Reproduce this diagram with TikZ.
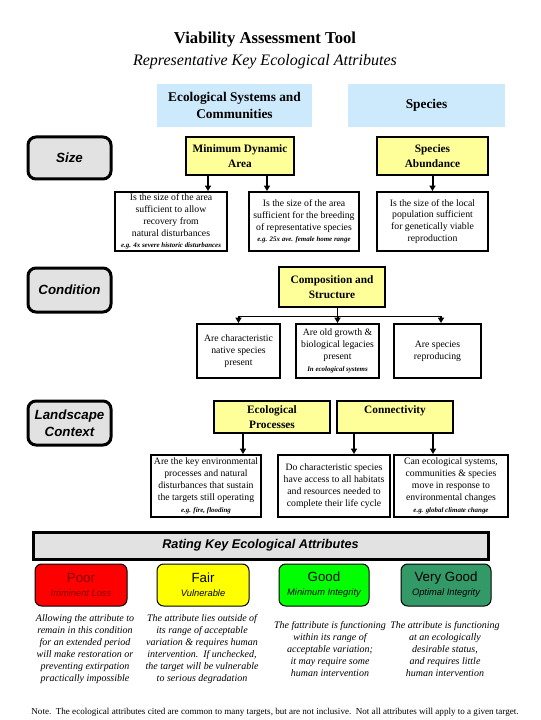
\documentclass[tikz,border=0pt]{standalone}
\usepackage{fontspec}
\setmainfont{Liberation Serif}
\setsansfont{Liberation Sans}
\usetikzlibrary{arrows.meta}

\definecolor{hdrblue}{RGB}{204,234,252}
\definecolor{attryellow}{RGB}{255,255,153}
\definecolor{keygray}{RGB}{226,226,226}
\definecolor{poorred}{RGB}{255,0,0}
\definecolor{poortext}{RGB}{130,0,0}
\definecolor{fairyellow}{RGB}{255,255,0}
\definecolor{goodgreen}{RGB}{0,255,0}
\definecolor{vgoodgreen}{RGB}{51,153,102}

\tikzset{every picture/.style={line width=0.75pt}}
\tikzset{
  category/.style={rectangle, rounded corners=6pt, draw, line width=2.25pt, fill=keygray, align=center, inner sep=0pt, font=\fontsize{10}{12.5}\selectfont\sffamily\bfseries\itshape},
  target/.style={fill=hdrblue, align=center, inner sep=0pt, font=\fontsize{10}{12.5}\selectfont\bfseries},
  attribute/.style={draw, line width=1.5pt, fill=attryellow, align=center, inner sep=0pt, font=\fontsize{8.5}{11.5}\selectfont\bfseries},
  question/.style={draw, line width=1.5pt, fill=white, align=center, inner sep=0pt, font=\fontsize{7.3}{8.9}\selectfont},
  rating/.style={draw, rounded corners=5pt, align=center, inner sep=0pt, minimum height=31.5pt, font=\fontsize{10}{10.5}\selectfont\sffamily},
  ratingtext/.style={align=center, inner sep=0pt, font=\fontsize{7.5}{9}\selectfont\itshape},
  arr/.style={-{Triangle[length=4pt,width=4.5pt]}, line width=1.5pt},
}
\newcommand{\egline}[1]{\\{\fontsize{5.2}{6.2}\selectfont\bfseries\itshape #1}}
\newcommand{\ratingsub}[1]{\\{\fontsize{7}{8}\selectfont\itshape #1}}

\begin{document}
\begin{tikzpicture}[x=0.75pt,y=0.75pt,yscale=-1,xscale=1]
\useasboundingbox (0,0) rectangle (540,720);

% Title
\node (title) at (265,40) {\fontsize{12.5}{14}\selectfont\bfseries Viability Assessment Tool};
\node (subtitle) at (265,62) {\fontsize{12}{14}\selectfont\itshape Representative Key Ecological Attributes};

% Targets
\node [target, minimum width=116.25pt, minimum height=32.25pt] (eco) at (234.5,105.5) {Ecological Systems and\\Communities};
\node [target, minimum width=117.75pt, minimum height=32.25pt] (spe) at (426.5,105.5) {Species};

% Categories
\node [category, minimum width=62.25pt, minimum height=31.5pt] (size) at (69.5,158) {Size};
\node [category, minimum width=62.25pt, minimum height=33pt] (cond) at (69.5,290) {Condition};
\node [category, minimum width=62.25pt, minimum height=33pt] (land) at (69.5,423) {Landscape\\Context};

% Size
\node [attribute, minimum width=81pt, minimum height=28.5pt] (mda) at (240,156) {Minimum Dynamic\\Area};
\node [attribute, minimum width=83.25pt, minimum height=28.5pt] (sab) at (432.5,156) {Species\\Abundance};
\node [question, minimum width=84pt, minimum height=44.25pt] (s1) at (171,221.5) {Is the size of the area\\sufficient to allow\\recovery from\\natural disturbances\egline{e.g. 4x severe historic disturbances}};
\node [question, minimum width=82.5pt, minimum height=44.25pt] (s2) at (304,221.5) {Is the size of the area\\sufficient for the breeding\\of representative species\egline{e.g. 25x ave. female home range}};
\node [question, minimum width=83.25pt, minimum height=44.25pt] (s3) at (432.5,221.5) {Is the size of the local\\population sufficient\\for genetically viable\\reproduction};
\coordinate (a1) at (208,0);
\coordinate (a2) at (267,0);
\draw [arr] (mda.south -| a1) -- (s1.north -| a1);
\draw [arr] (mda.south -| a2) -- (s2.north -| a2);
\draw [arr] (sab) -- (s3);

% Condition
\node [attribute, minimum width=79.5pt, minimum height=30pt] (cas) at (332,287) {Composition and\\Structure};
\node [question, minimum width=62.25pt, minimum height=40.5pt] (c1) at (238.5,351) {Are characteristic\\native species\\present};
\node [question, minimum width=62.25pt, minimum height=40.5pt] (c2) at (337.5,351) {Are old growth \&\\biological legacies\\present\egline{In ecological systems}};
\node [question, minimum width=65.25pt, minimum height=40.5pt] (c3) at (437.5,351) {Are species\\reproducing};
\coordinate (j) at (0,316);
\coordinate (a3) at (441,0);
\draw (cas.south -| c2) -- (c2 |- j);
\draw (c1 |- j) -- (a3 |- j);
\draw [arr] (c1 |- j) -- (c1.north);
\draw [arr] (c2 |- j) -- (c2.north);
\draw [arr] (a3 |- j) -- (c3.north -| a3);

% Landscape context
\node [attribute, minimum width=87pt, minimum height=24pt] (ep) at (272,417) {Ecological\\Processes};
\node [attribute, minimum width=87pt, minimum height=24pt] (con) at (395,417) {Connectivity\\\phantom{X}};
\node [question, minimum width=82.5pt, minimum height=46.5pt] (l1) at (206,486) {Are the key environmental\\processes and natural\\disturbances that sustain\\the targets still operating\egline{e.g. fire, flooding}};
\node [question, minimum width=84pt, minimum height=46.5pt] (l2) at (334,486) {Do characteristic species\\have access to all habitats\\and resources needed to\\complete their life cycle};
\node [question, minimum width=85.5pt, minimum height=46.5pt] (l3) at (451,486) {Can ecological systems,\\communities \& species\\move in response to\\environmental changes\egline{e.g. global climate change}};
\coordinate (a4) at (243,0);
\coordinate (a5) at (354,0);
\coordinate (a6) at (433,0);
\draw [arr] (ep.south -| a4) -- (l1.north -| a4);
\draw [arr] (con.south -| a5) -- (l2.north -| a5);
\draw [arr] (con.south -| a6) -- (l3.north -| a6);

% Rating key
\node [category, rounded corners=0pt, minimum width=341.25pt, minimum height=20.25pt, font=\fontsize{9.5}{11}\selectfont\sffamily\bfseries\itshape] (key) at (260.5,545.5) {Rating Key Ecological Attributes};
\node [rating, fill=poorred, text=poortext, minimum width=69pt] (poor) at (81,585) {Poor\ratingsub{Imminent Loss}};
\node [rating, fill=fairyellow, minimum width=69pt] (fair) at (203,585) {Fair\ratingsub{Vulnerable}};
\node [rating, fill=goodgreen, minimum width=67.5pt] (good) at (324,585) {Good\ratingsub{Minimum Integrity}};
\node [rating, fill=vgoodgreen, minimum width=67.5pt] (vgood) at (446,585) {Very Good\ratingsub{Optimal Integrity}};

% Text Node
\node [ratingtext] (poordesc) at (85,649) {Allowing the attribute to\\remain in this condition\\for an extended period\\will make restoration or\\preventing extirpation\\practically impossible};
\node [ratingtext] (fairdesc) at (202,649) {The attribute lies outside of\\its range of acceptable\\variation \& requires human\\intervention.\ \ If unchecked,\\the target will be vulnerable\\to serious degradation};
\node [ratingtext] (gooddesc) at (330,649) {The fattribute is functioning\\within its range of\\acceptable variation;\\it may require some\\human intervention};
\node [ratingtext] (vgooddesc) at (445,649) {The attribute is functioning\\at an ecologically\\desirable status,\\and requires little\\human intervention};

\node [inner sep=0pt] (note) at (275,712) {\fontsize{6.8}{8}\selectfont Note.\ \ The ecological attributes cited are common to many targets, but are not inclusive.\ \ Not all attributes will apply to a given target.};

\end{tikzpicture}
\end{document}
